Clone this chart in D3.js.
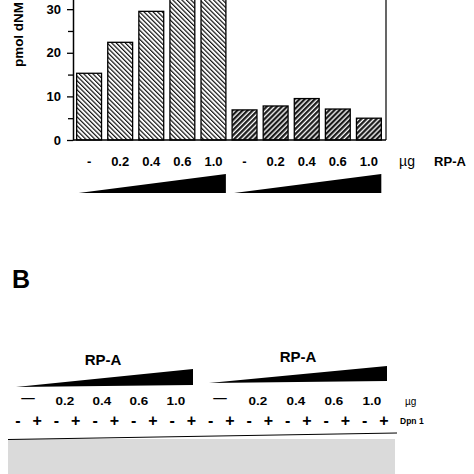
<!DOCTYPE html>
<html>
<head>
<meta charset="utf-8">
<script src="https://cdn.jsdelivr.net/npm/d3@7"></script>
<style>
  body { margin: 0; background: #fff; }
  svg { display: block; }
  text { font-family: "Liberation Sans", Arial, sans-serif; font-weight: bold; fill: #000; }
</style>
</head>
<body>
<svg id="chart" width="474" height="474"></svg>
<script>
// Values
const doses = ["-", "0.2", "0.4", "0.6", "1.0"];
const groupLeft = [15.3, 22.4, 29.5, 34, 34.5];
const groupRight = [6.9, 7.8, 9.5, 7.1, 5.0];
const majorTicks = [0, 10, 20, 30];
const minorTicks = [5, 15, 25, 35];
const gelDoses = ["\u2014", "0.2", "0.4", "0.6", "1.0"];
const dpnSigns = ["-", "+"];

const svg = d3.select("#chart");

// ---- Panel A: bar chart ----
const bars = [];
doses.forEach((d, i) => bars.push({ key: "L" + i, dose: d, value: groupLeft[i], group: "left" }));
doses.forEach((d, i) => bars.push({ key: "R" + i, dose: d, value: groupRight[i], group: "right" }));

const x = d3.scaleBand()
  .domain(bars.map((d) => d.key))
  .range([72, 386])
  .paddingInner(0.2)
  .paddingOuter(0.15);

const y = d3.scaleLinear().domain([0, 36]).range([140, -17]);

// hatch patterns
const defs = svg.append("defs");
defs.append("pattern")
  .attr("id", "hatchLight")
  .attr("patternUnits", "userSpaceOnUse")
  .attr("width", 3.2).attr("height", 3.2)
  .attr("patternTransform", "rotate(-45)")
  .call((p) => {
    p.append("rect").attr("width", 3.2).attr("height", 3.2).attr("fill", "#fff");
    p.append("line").attr("x1", 0.6).attr("y1", 0).attr("x2", 0.6).attr("y2", 3.2)
      .attr("stroke", "#111").attr("stroke-width", 1.2);
  });
defs.append("pattern")
  .attr("id", "hatchDark")
  .attr("patternUnits", "userSpaceOnUse")
  .attr("width", 3.6).attr("height", 3.6)
  .attr("patternTransform", "rotate(45)")
  .call((p) => {
    p.append("rect").attr("width", 3.6).attr("height", 3.6).attr("fill", "#fff");
    p.append("line").attr("x1", 1.2).attr("y1", 0).attr("x2", 1.2).attr("y2", 3.6)
      .attr("stroke", "#111").attr("stroke-width", 2.2);
  });

svg.append("g")
  .selectAll("rect")
  .data(bars)
  .join("rect")
  .attr("x", (d) => x(d.key))
  .attr("y", (d) => y(d.value))
  .attr("width", x.bandwidth())
  .attr("height", (d) => y(0) - y(d.value))
  .attr("fill", (d) => (d.group === "left" ? "url(#hatchLight)" : "url(#hatchDark)"))
  .attr("stroke", "#000")
  .attr("stroke-width", 1.3);

// y axis, major and minor ticks
const axisX = 73;
svg.append("g")
  .attr("transform", `translate(${axisX},0)`)
  .call(d3.axisLeft(y).tickValues(minorTicks).tickSize(5).tickFormat(""))
  .call((g) => g.select(".domain").remove())
  .call((g) => g.selectAll("line").attr("stroke-width", 1.3));

svg.append("g")
  .attr("transform", `translate(${axisX},0)`)
  .call(d3.axisLeft(y).tickValues(majorTicks).tickSize(6).tickSizeOuter(0).tickPadding(6))
  .call((g) => g.select(".domain").attr("stroke-width", 1.5))
  .call((g) => g.selectAll("line").attr("stroke-width", 1.3))
  .call((g) => g.selectAll("text").attr("font-size", 13).attr("font-family", null));

// baseline and right frame
svg.append("line")
  .attr("x1", axisX).attr("x2", 386)
  .attr("y1", y(0)).attr("y2", y(0))
  .attr("stroke", "#000").attr("stroke-width", 1.6);
svg.append("line")
  .attr("x1", 386).attr("x2", 386)
  .attr("y1", y(0)).attr("y2", y(36))
  .attr("stroke", "#000").attr("stroke-width", 1.2);

// y label (runs up to the top edge, like the source)
svg.append("text")
  .attr("transform", "translate(23,67) rotate(-90) scale(1.12,1)")
  .attr("font-size", 12)
  .text("pmol dNM");

// dose labels under bars
svg.append("g")
  .selectAll("text")
  .data(bars)
  .join("text")
  .attr("x", (d) => x(d.key) + x.bandwidth() / 2)
  .attr("y", 166)
  .attr("text-anchor", "middle")
  .attr("font-size", 13)
  .text((d) => d.dose);

svg.append("text").attr("x", 407).attr("y", 166).attr("text-anchor", "middle")
  .attr("font-size", 14).style("font-weight", "normal").text("\u00b5g");
svg.append("text").attr("x", 450).attr("y", 166).attr("text-anchor", "middle")
  .attr("font-size", 13).text("RP-A");

// wedges in panel A
function wedge(x0, x1, yBase, yTop, yBaseRight) {
  return `M${x0},${yBase}L${x1},${yTop}L${x1},${yBaseRight}Z`;
}
[["L0", "L4"], ["R0", "R4"]].forEach(([a, b]) => {
  svg.append("path")
    .attr("d", wedge(x(a) + 2, x(b) + x.bandwidth(), 193, 174, 193))
    .attr("fill", "#000");
});

// ---- Panel B: gel header ----
svg.append("text").attr("x", 12).attr("y", 288).attr("font-size", 25).text("B");

const lanes = d3.range(20);
const lx = d3.scalePoint().domain(lanes).range([18, 384]);

const gelGroups = [
  { name: "RP-A", labelX: 103, labelY: 365, range: [28, 176], w: [16, 193, 387, 369, 385] },
  { name: "RP-A", labelX: 298, labelY: 362, range: [220, 372], w: [209, 387, 383, 366, 381] },
];

gelGroups.forEach((g) => {
  svg.append("text").attr("x", g.labelX).attr("y", g.labelY)
    .attr("text-anchor", "middle").attr("font-size", 15).text(g.name);
  svg.append("path")
    .attr("d", wedge(g.w[0], g.w[1], g.w[2], g.w[3], g.w[4]))
    .attr("fill", "#000");
  const dx = d3.scalePoint().domain(gelDoses).range(g.range);
  svg.append("g")
    .selectAll("text")
    .data(gelDoses)
    .join("text")
    .attr("transform", (d) => `translate(${dx(d)},${d === "\u2014" ? 402 : 405}) scale(1.35,1)`)
    .attr("text-anchor", "middle")
    .attr("font-size", 10)
    .text((d) => d);
});

svg.append("text").attr("x", 405).attr("y", 405).attr("font-size", 10)
  .style("font-weight", "normal").text("\u00b5g");

svg.append("g")
  .selectAll("text")
  .data(lanes)
  .join("text")
  .attr("x", (d) => lx(d))
  .attr("y", 426)
  .attr("text-anchor", "middle")
  .attr("font-size", 16)
  .text((d) => dpnSigns[d % 2]);

svg.append("text").attr("x", 400).attr("y", 424).attr("font-size", 8.5).text("Dpn 1");

// gel image area
svg.append("rect")
  .attr("x", 8).attr("y", 439)
  .attr("width", 387).attr("height", 40)
  .attr("fill", "#dadada");
svg.append("line")
  .attr("x1", 8).attr("y1", 439.5).attr("x2", 397).attr("y2", 433)
  .attr("stroke", "#000").attr("stroke-width", 1.2);
</script>
</body>
</html>
